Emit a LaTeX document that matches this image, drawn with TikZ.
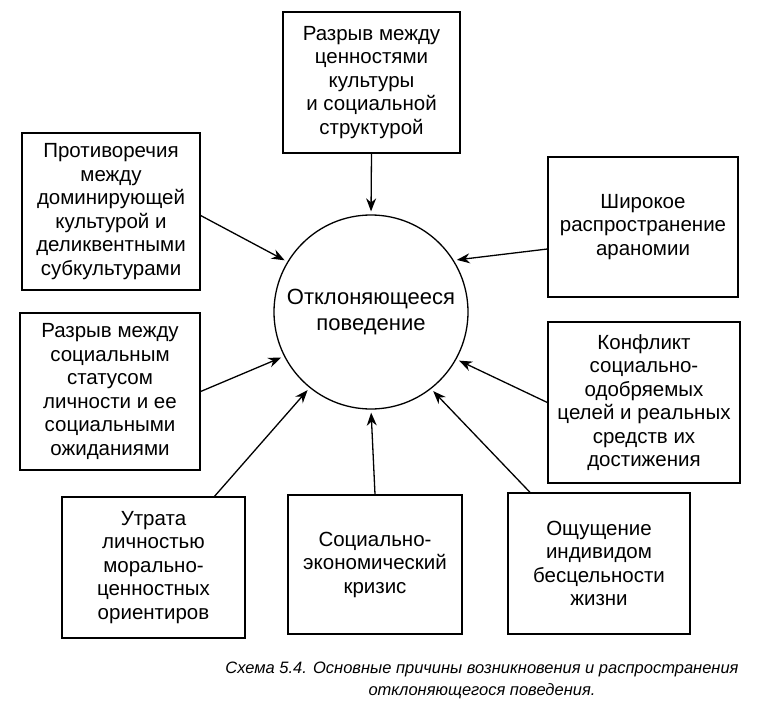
\documentclass[tikz,border=0pt]{standalone}
\usepackage{fontspec}
\setmainfont{Liberation Sans}
\usetikzlibrary{arrows.meta}
\begin{document}
\begin{tikzpicture}[x=1pt,y=-1pt,
  bx/.style={draw,line width=1.3pt,align=center,inner sep=0pt,font=\fontsize{20.5}{23.5}\selectfont},
  arr/.style={line width=1.3pt,-{Stealth[length=13pt,width=10pt]},shorten >=3pt}]
\useasboundingbox (0,0) rectangle (758,712);
\node[bx,minimum width=177pt,minimum height=141pt] (t) at (371.5,82.5) {Разрыв между\\ценностями\\культуры\\и социальной\\структурой};
\node[bx,minimum width=178pt,minimum height=157pt] (l1) at (111,211.5) {Противоречия\\между\\доминирующей\\культурой и\\деликвентными\\субкультурами};
\node[bx,minimum width=190pt,minimum height=140pt] (r1) at (643,227) {Широкое\\распространение\\араномии};
\node[bx,minimum width=180pt,minimum height=157pt] (l2) at (110,391.5) {Разрыв между\\социальным\\статусом\\личности и ее\\социальными\\ожиданиями};
\node[bx,minimum width=192pt,minimum height=161pt] (r2) at (644,402.5) {Конфликт\\социально-\\одобряемых\\целей и реальных\\средств их\\достижения};
\node[bx,minimum width=183pt,minimum height=141pt] (bl) at (153.5,567.5) {Утрата\\личностью\\морально-\\ценностных\\ориентиров};
\node[bx,minimum width=174pt,minimum height=139pt] (bm) at (375,564.5) {Социально-\\экономический\\кризис};
\node[bx,minimum width=182pt,minimum height=141pt] (br) at (599,563.5) {Ощущение\\индивидом\\бесцельности\\жизни};
\node[draw,circle,line width=1.3pt,minimum size=194pt,align=center,inner sep=0pt,font=\fontsize{22}{26}\selectfont] (c) at (371,312) {Отклоняющееся\\поведение};
\draw[arr] (t.south) -- (c.90);
\draw[arr] (l1.east) ++(0,4) -- (c.149);
\draw[arr] ([yshift=-22pt]r1.west) -- (c.32);
\draw[arr] (l2.east) -- (c.207);
\draw[arr] (r2.west) -- (c.331);
\draw[arr] ([xshift=61pt]bl.north) -- (c.231);
\draw[arr] (bm.north) -- (c.270);
\draw[arr] ([xshift=-69pt]br.north) -- (c.308);
\node[font=\itshape\fontsize{16.5}{22}\selectfont,align=center] (cap) at (482,680) {Схема 5.4. Основные причины возникновения и распространения\\отклоняющегося поведения.};
\end{tikzpicture}
\end{document}
